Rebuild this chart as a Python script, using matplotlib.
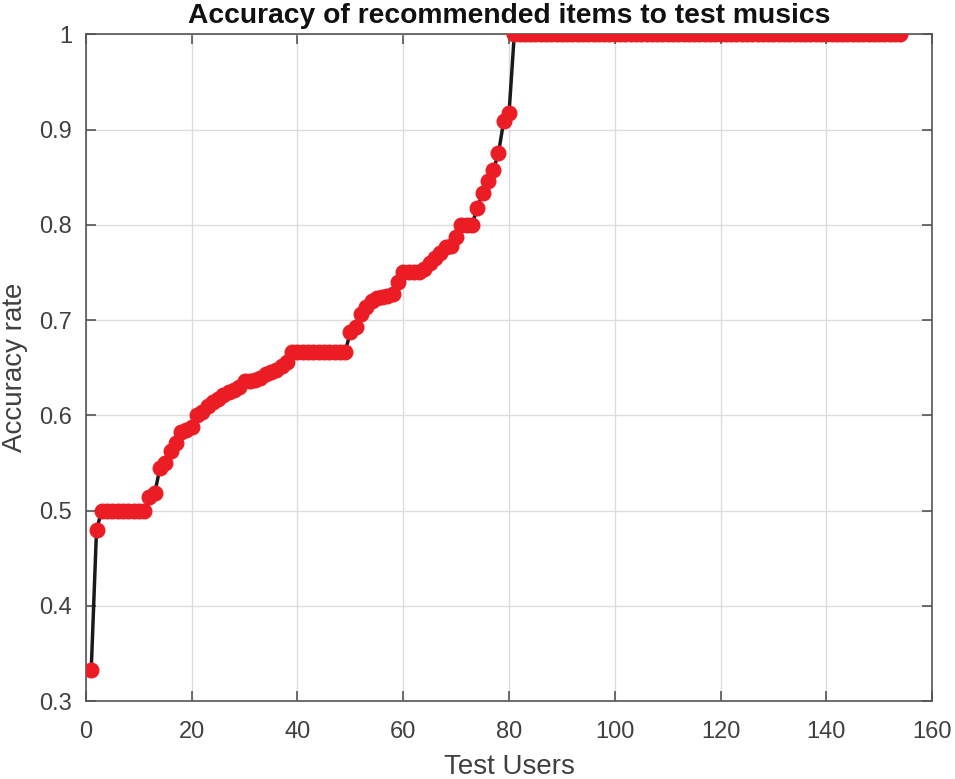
import matplotlib.pyplot as plt
import numpy as np

plt.rcParams['font.family'] = ['Liberation Sans', 'DejaVu Sans']

# accuracy per test user, sorted
acc_head = [0.333, 0.48,
            0.5, 0.5, 0.5, 0.5, 0.5, 0.5, 0.5, 0.5, 0.5,
            0.514, 0.518, 0.545, 0.55, 0.563, 0.571, 0.583, 0.585, 0.588,
            0.6, 0.603, 0.61, 0.614, 0.617, 0.621, 0.625, 0.627, 0.63,
            0.636, 0.636, 0.637, 0.639, 0.643, 0.645, 0.648, 0.652, 0.656,
            0.6667, 0.6667, 0.6667, 0.6667, 0.6667, 0.6667, 0.6667, 0.6667,
            0.6667, 0.6667, 0.6667,
            0.687, 0.693, 0.706, 0.714, 0.72, 0.723, 0.724, 0.725, 0.727,
            0.74, 0.75, 0.75, 0.75, 0.75, 0.754, 0.76, 0.765, 0.77, 0.777,
            0.778, 0.787, 0.8, 0.8, 0.8, 0.818, 0.833, 0.846, 0.857, 0.875,
            0.909, 0.917]
acc_tail = [1.0] * 74
accuracy = acc_head + acc_tail
users = np.arange(1, len(accuracy) + 1)

xticks = [0, 20, 40, 60, 80, 100, 120, 140, 160]
yticks = [0.3, 0.4, 0.5, 0.6, 0.7, 0.8, 0.9, 1.0]
ylabels = ['0.3', '0.4', '0.5', '0.6', '0.7', '0.8', '0.9', '1']

fig = plt.figure(figsize=(9.55, 7.79), dpi=100)
ax = fig.add_axes([0.090, 0.100, 0.886, 0.856])

ax.plot(users, accuracy, color='#1a1a1a', lw=2.5, zorder=2)
ax.plot(users, accuracy, 'o', color='#ec1c24', ms=10.5, mec='#ec1c24', zorder=3)

ax.set_xlim(0, 160)
ax.set_ylim(0.3, 1.0)
ax.set_xticks(xticks)
ax.set_yticks(yticks)
ax.set_yticklabels(ylabels)
ax.grid(True, color='#dcdcdc', lw=1)
ax.set_axisbelow(True)
ax.tick_params(direction='in', length=7, width=1.2, colors='#555555',
               labelcolor='#404040', labelsize=17, top=True, right=True)
ax.tick_params(axis='x', pad=14)
ax.tick_params(axis='y', pad=10)
for s in ax.spines.values():
    s.set_color('#555555')
    s.set_linewidth(1.2)

ax.set_title('Accuracy of recommended items to test musics', fontsize=20.3,
             fontweight='bold', color='#111111', pad=8)
ax.set_xlabel('Test Users', fontsize=20, color='#404040', labelpad=8)
ax.set_ylabel('Accuracy rate', fontsize=20, color='#404040', labelpad=8)

fig.savefig('out.png', dpi=100)
